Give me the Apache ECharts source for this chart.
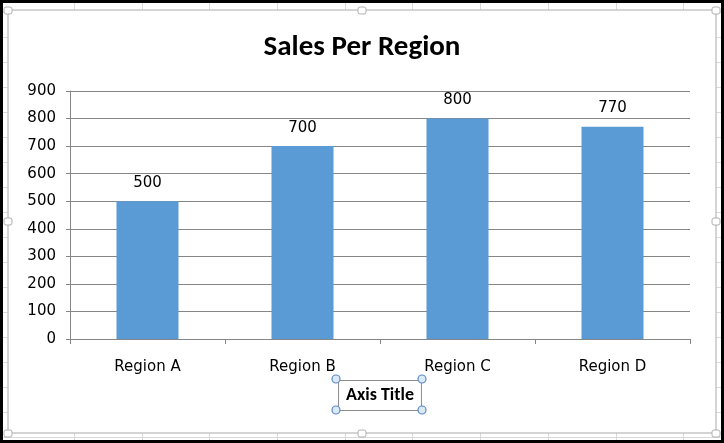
<!DOCTYPE html>
<html><head><meta charset="utf-8">
<script src="https://cdn.jsdelivr.net/npm/echarts@6/dist/echarts.min.js"></script>
<style>html,body{margin:0;padding:0;background:#fff}#c{width:724px;height:443px}</style>
</head><body><div id="c"></div>
<script>
const categories = ['Region A', 'Region B', 'Region C', 'Region D'];
const sales = [500, 700, 800, 770];
const yTicks = [0, 100, 200, 300, 400, 500, 600, 700, 800, 900];

const chart = echarts.init(document.getElementById('c'), null, {renderer: 'canvas'});
const W = 724, H = 443;
const deco = [];
// spreadsheet gridlines behind the chart
for (let x = 74; x < W; x += 67.7) deco.push({type: 'line', shape: {x1: Math.round(x) + 0.5, y1: 0, x2: Math.round(x) + 0.5, y2: H}, style: {stroke: '#d9d9d9', lineWidth: 1}, z: -10});
for (let y = 12; y < H; y += 25) deco.push({type: 'line', shape: {x1: 0, y1: y + 0.5, x2: W, y2: y + 0.5}, style: {stroke: '#d9d9d9', lineWidth: 1}, z: -10});
// chart area
deco.push({type: 'rect', shape: {x: 8, y: 10, width: 708, height: 423}, style: {fill: '#fff', stroke: '#c6c6c6', lineWidth: 1.5}, z: -9});
// frame handles
[[8, 10], [362, 10], [716, 10], [8, 221], [716, 221], [8, 433], [362, 433], [716, 433]].forEach(p => {
  deco.push({type: 'rect', shape: {x: p[0] - 4, y: p[1] - 3, width: 8, height: 7, r: 2}, style: {fill: '#fff', stroke: '#b0b0b0', lineWidth: 1}, z: -8});
});
// outer black frame
deco.push({type: 'rect', shape: {x: 1.5, y: 1.5, width: W - 3, height: H - 3}, style: {fill: null, stroke: '#000', lineWidth: 3}, z: 100});
// axis title handles
[[336, 379], [422, 379], [336, 410], [422, 410]].forEach(p => {
  deco.push({type: 'circle', shape: {cx: p[0], cy: p[1], r: 4}, style: {fill: '#dbe8f5', stroke: '#5a8ac6', lineWidth: 1.2}, z: 50});
});

chart.setOption({
  animation: false,
  backgroundColor: 'transparent',
  title: {
    text: 'Sales Per Region', left: 'center', top: 28,
    textStyle: {fontFamily: 'Carlito, "Liberation Sans", Arial, sans-serif', fontWeight: 'bold', fontSize: 29, color: '#000'}
  },
  grid: {left: 70, right: 34, top: 91, bottom: 104, containLabel: false},
  xAxis: {
    type: 'category', data: categories,
    name: 'Axis Title', nameLocation: 'middle', nameGap: 40,
    nameTextStyle: {fontFamily: 'Carlito, "Liberation Sans", Arial, sans-serif', fontWeight: 'bold', fontSize: 18, color: '#000',
      borderColor: '#8c8c8c', borderWidth: 1, width: 72, align: 'center', padding: [6, 7, 5, 7], backgroundColor: '#fff', verticalAlign: 'middle'},
    axisLine: {show: true, lineStyle: {color: '#868686', width: 1}},
    axisTick: {show: true, length: 5, interval: 0, lineStyle: {color: '#868686'}},
    axisLabel: {fontFamily: '"DejaVu Sans", sans-serif', fontSize: 15, color: '#000', margin: 21, interval: 0},
    splitLine: {show: false}
  },
  yAxis: {
    type: 'value', min: 0, max: 900, interval: 100,
    axisLine: {show: true, lineStyle: {color: '#868686', width: 1}},
    axisTick: {show: true, length: 4, lineStyle: {color: '#868686'}},
    axisLabel: {fontFamily: '"DejaVu Sans", sans-serif', fontSize: 15, color: '#000', margin: 14,
      formatter: v => yTicks.includes(v) ? String(v) : ''},
    splitLine: {show: true, lineStyle: {color: '#868686', width: 1}}
  },
  series: [{
    type: 'bar', data: sales, barWidth: '40%',
    itemStyle: {color: '#5B9BD5'},
    label: {show: true, position: 'top', distance: 11, fontFamily: '"DejaVu Sans", sans-serif', fontSize: 15, color: '#000'}
  }],
  graphic: deco
});
</script></body></html>
